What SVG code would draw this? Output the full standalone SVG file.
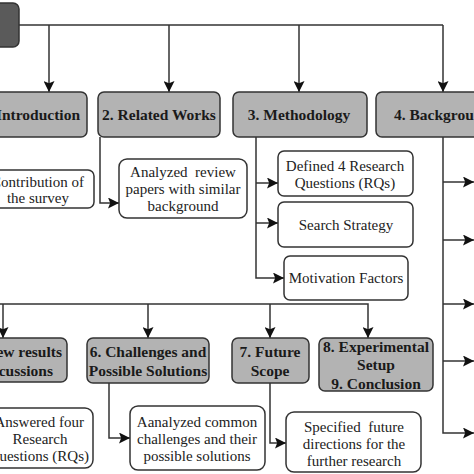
<svg xmlns="http://www.w3.org/2000/svg" width="474" height="474" viewBox="0 0 474 474">
<style>
.bg{fill:#fff}
.hd{fill:#b3b3b3;stroke:#333;stroke-width:1.5}
.bx{fill:#fff;stroke:#333;stroke-width:1.5}
.root{fill:#5a5a5a;stroke:#333;stroke-width:1.5}
.c{fill:none;stroke:#333;stroke-width:1.5}
.ca{fill:none;stroke:#333;stroke-width:1.5;marker-end:url(#ah)}
.tb{font-family:"Liberation Serif",serif;font-size:15.5px;font-weight:bold;fill:#1a1a1a}
.tr{font-family:"Liberation Serif",serif;font-size:15px;fill:#222}
.m{text-anchor:middle}
.e{text-anchor:end}
</style>
<defs>
<marker id="ah" markerUnits="userSpaceOnUse" markerWidth="11" markerHeight="11" viewBox="0 0 10 10" refX="10" refY="5" orient="auto">
<path d="M0,0 L10,5 L0,10 L2,5 z" fill="#111"/>
</marker>
</defs>
<rect class="bg" x="0" y="0" width="474" height="474"/>
<g id="connectors">
<path class="c" d="M19,25 H443"/>
<path class="ca" d="M49,25 V92"/>
<path class="ca" d="M169,25 V92"/>
<path class="ca" d="M299,25 V92"/>
<path class="ca" d="M443,25 V92"/>
<path class="ca" d="M100,137 V203 H119"/>
<path class="ca" d="M256,137 V278 H284"/>
<path class="ca" d="M256,183 H278"/>
<path class="ca" d="M256,223 H278"/>
<path class="ca" d="M443,137 V433 H474"/>
<path class="ca" d="M443,182 H474"/>
<path class="ca" d="M443,240 H474"/>
<path class="ca" d="M443,304 H474"/>
<path class="ca" d="M443,361 H474"/>
<path class="ca" d="M-5,304 H368 V338"/>
<path class="ca" d="M3,304 V338"/>
<path class="ca" d="M148,304 V338"/>
<path class="ca" d="M270,304 V338"/>
<path class="ca" d="M109,383 V438 H130"/>
<path class="ca" d="M270,383 V443 H286"/>
</g>
<g id="root"><rect class="root" x="-20" y="3" width="39" height="44" rx="6"/></g>
<g id="n1"><rect class="hd" x="-40" y="92" width="127" height="45" rx="6"/>
<text class="tb e" x="80" y="119.5">Introduction</text></g>
<g id="n2"><rect class="hd" x="98" y="92" width="122" height="45" rx="6"/>
<text class="tb m" x="159" y="119.5">2. Related Works</text></g>
<g id="n3"><rect class="hd" x="233" y="92" width="134" height="45" rx="6"/>
<text class="tb m" x="299" y="119.5">3. Methodology</text></g>
<g id="n4"><rect class="hd" x="376" y="92" width="130" height="45" rx="6"/>
<text class="tb" x="394" y="119.5">4. Backgrou</text></g>
<g id="n1a"><rect class="bx" x="-20" y="170" width="114" height="38" rx="6"/>
<text class="tr e" x="84" y="187">Contribution of</text>
<text class="tr m" x="38" y="203">the survey</text></g>
<g id="n2a"><rect class="bx" x="119" y="159" width="128" height="59" rx="8"/>
<text class="tr m" x="183" y="177" xml:space="preserve">Analyzed  review</text>
<text class="tr m" x="183" y="194">papers with similar</text>
<text class="tr m" x="183" y="211">background</text></g>
<g id="n3a"><rect class="bx" x="278" y="151" width="135" height="45" rx="6"/>
<text class="tr m" x="345" y="171">Defined 4 Research</text>
<text class="tr m" x="345" y="188">Questions (RQs)</text></g>
<g id="n3b"><rect class="bx" x="278" y="202" width="135" height="45" rx="6"/>
<text class="tr m" x="346" y="229.5">Search Strategy</text></g>
<g id="n3c"><rect class="bx" x="284" y="256" width="124" height="44" rx="6"/>
<text class="tr m" x="346" y="283">Motivation Factors</text></g>
<g id="n5"><rect class="hd" x="-60" y="338" width="127" height="44" rx="6"/>
<text class="tb e" x="62" y="357">ew results</text>
<text class="tb e" x="53" y="376">cussions</text></g>
<g id="n6"><rect class="hd" x="87" y="338" width="122" height="45" rx="6"/>
<text class="tb m" x="148" y="357">6. Challenges and</text>
<text class="tb m" x="148" y="376">Possible Solutions</text></g>
<g id="n7"><rect class="hd" x="232" y="338" width="77" height="45" rx="6"/>
<text class="tb m" x="270" y="357">7. Future</text>
<text class="tb m" x="270" y="376">Scope</text></g>
<g id="n8"><rect class="hd" x="319" y="338" width="114" height="53" rx="6"/>
<text class="tb m" x="376" y="352">8. Experimental</text>
<text class="tb m" x="376" y="370">Setup</text>
<text class="tb m" x="376" y="389">9. Conclusion</text></g>
<g id="n5a"><rect class="bx" x="-20" y="408" width="113" height="60" rx="8"/>
<text class="tr e" x="84" y="427">Answered four</text>
<text class="tr m" x="40" y="444">Research</text>
<text class="tr e" x="89" y="461">Questions (RQs)</text></g>
<g id="n6a"><rect class="bx" x="130" y="406" width="135" height="64" rx="8"/>
<text class="tr m" x="197" y="427">Aanalyzed common</text>
<text class="tr m" x="197" y="444">challenges and their</text>
<text class="tr m" x="197" y="461">possible solutions</text></g>
<g id="n7a"><rect class="bx" x="286" y="412" width="135" height="60" rx="8"/>
<text class="tr m" x="354" y="432" xml:space="preserve">Specified  future</text>
<text class="tr m" x="354" y="449">directions for the</text>
<text class="tr m" x="354" y="466">further research</text></g>
</svg>
